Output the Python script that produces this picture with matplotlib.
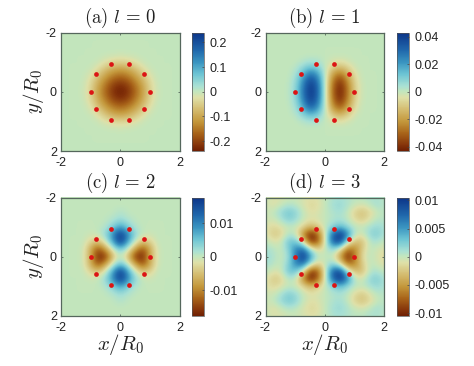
import numpy as np
import matplotlib
matplotlib.use("Agg")
import matplotlib.pyplot as plt
from matplotlib.colors import LinearSegmentedColormap

plt.rcParams['font.family'] = ['Liberation Sans', 'DejaVu Sans']
plt.rcParams['mathtext.fontset'] = 'cm'

# one quadrant of each field: rows y=0..2, cols x=0..2, step 0.25
field_a = [
	[-.240, -.220, -.168, -.110, -.042, -.005, 0, 0, 0],
	[-.220, -.200, -.150, -.098, -.036, -.004, 0, 0, 0],
	[-.168, -.150, -.115, -.068, -.022, -.001, 0, 0, 0],
	[-.110, -.098, -.068, -.030, -.005, 0, 0, 0, 0],
	[-.042, -.036, -.022, -.005, 0, 0, 0, 0, 0],
	[-.005, -.004, -.001, 0, 0, 0, 0, 0, 0],
	[0, 0, 0, 0, 0, 0, 0, 0, 0],
	[0, 0, 0, 0, 0, 0, 0, 0, 0],
	[0, 0, 0, 0, 0, 0, 0, 0, 0],
]
field_b = [
	[0, -.031, -.043, -.027, -.008, -.0005, 0, 0, 0],
	[0, -.029, -.041, -.025, -.007, -.0005, 0, 0, 0],
	[0, -.023, -.033, -.019, -.005, 0, 0, 0, 0],
	[0, -.012, -.017, -.010, -.002, 0, 0, 0, 0],
	[0, -.003, -.004, -.002, 0, 0, 0, 0, 0],
	[0, 0, 0, 0, 0, 0, 0, 0, 0],
	[0, 0, 0, 0, 0, 0, 0, 0, 0],
	[0, 0, 0, 0, 0, 0, 0, 0, 0],
	[0, 0, 0, 0, 0, 0, 0, 0, 0],
]
field_c = [
	[0, -.005, -.016, -.0172, -.007, -.0005, 0, 0, 0],
	[.005, 0, -.008, -.014, -.007, -.0005, 0, 0, 0],
	[.017, .008, 0, -.005, -.003, 0, 0, 0, 0],
	[.017, .010, .003, 0, -.0005, 0, 0, 0, 0],
	[.008, .004, .001, 0, 0, 0, 0, 0, 0],
	[.0025, .001, .0002, 0, 0, 0, 0, 0, 0],
	[.001, .0002, 0, 0, 0, 0, 0, 0, 0],
	[0, 0, 0, 0, 0, 0, 0, 0, 0],
	[0, 0, 0, 0, 0, 0, 0, 0, 0],
]
field_d = [
	[0, -.0003, -.005, -.0105, -.006, -.0012, .0003, -.0008, -.0015],
	[0, .002, -.001, -.007, -.006, -.002, .0002, -.0004, -.0011],
	[0, .008, .0095, .001, -.003, -.003, .0005, .0008, -.0002],
	[0, .0075, .0105, .006, 0, -.0005, .002, .0024, .0008],
	[0, .002, .0035, .0015, .0003, .0001, .001, .0016, .0008],
	[0, .0006, .0008, .0001, -.0015, -.0024, -.0008, .0004, .0004],
	[0, .0008, .0012, 0, -.002, -.0028, -.0016, -.0001, .0003],
	[0, .0012, .0016, .0008, -.0001, -.0005, .0004, .0012, .0004],
	[0, .0008, .001, .0006, .0002, .0004, .0008, .0008, .0002],
]

# red markers
dots_x = [1, .81, .31, -.31, -.81, -1, -.81, -.31, .31, .81]
dots_y = [0, .59, .95, .95, .59, 0, -.59, -.95, -.95, -.59]

titles = ['(a)', '(b)', '(c)', '(d)']
orders = ['0', '1', '2', '3']
limits = [0.24, 0.043, 0.0178, 0.0105]
cbar_ticks = [
	[0.2, 0.1, 0, -0.1, -0.2],
	[0.04, 0.02, 0, -0.02, -0.04],
	[0.01, 0, -0.01],
	[0.01, 0.005, 0, -0.005, -0.01],
]
cbar_labels = [
	['0.2', '0.1', '0', '-0.1', '-0.2'],
	['0.04', '0.02', '0', '-0.02', '-0.04'],
	['0.01', '0', '-0.01'],
	['0.01', '0.005', '0', '-0.005', '-0.01'],
]
axis_ticks = [-2, 0, 2]
axis_labels = ['-2', '0', '2']

cmap = LinearSegmentedColormap.from_list('rb', [
	(0.00, '#6e1e02'),
	(0.05, '#85340a'),
	(0.15, '#a9651a'),
	(0.25, '#c4983c'),
	(0.35, '#d4bc70'),
	(0.45, '#dfe0a8'),
	(0.50, '#c4e6bc'),
	(0.55, '#a8e0d4'),
	(0.65, '#6cc4d4'),
	(0.75, '#3a94c0'),
	(0.85, '#2068ac'),
	(1.00, '#0c3488'),
])

W, H = 474.0, 366.0
spine = '#55675c'


def px_axes(fig, left, top, right, bottom):
	return fig.add_axes([left / W, 1 - bottom / H, (right - left) / W, (bottom - top) / H])


def unfold(quad, odd):
	q = np.array(quad, dtype=float)
	left = q[:, :0:-1] * (-1 if odd else 1)
	half = np.hstack([left, q])
	return np.vstack([half[:0:-1], half])


fig = plt.figure(figsize=(4.74, 3.66), dpi=100)
lefts = [61, 265.5, 61, 265.5]
tops = [32.5, 32.5, 197.5, 197.5]
fields = [(field_a, False), (field_b, True), (field_c, False), (field_d, True)]

for i in range(4):
	l, t = lefts[i], tops[i]
	ax = px_axes(fig, l, t, l + 118.5, t + 118.5)
	z = unfold(fields[i][0], fields[i][1])
	im = ax.imshow(z, extent=[-2.125, 2.125, 2.125, -2.125], cmap=cmap, vmin=-limits[i], vmax=limits[i],
		interpolation='bicubic', aspect='auto')
	ax.set_xlim(-2, 2)
	ax.set_ylim(2, -2)
	ax.plot(dots_x, dots_y, 'o', color='#dc1414', ms=3.4, mew=0, clip_on=False)
	ax.set_xticks(axis_ticks, axis_labels)
	ax.set_yticks(axis_ticks, axis_labels)
	ax.tick_params(direction='in', length=1.5, width=0.6, color=spine, labelsize=9, pad=3, labelcolor='#222222',
		top=True, right=True)
	ax.tick_params(axis='x', pad=4)
	for s in ax.spines.values():
		s.set_color(spine)
		s.set_linewidth(0.9)
	ax.set_title(r'$\mathrm{%s}\ l\,=\,%s$' % (titles[i], orders[i]), fontsize=13.5, pad=7, color='#222222')
	if i % 2 == 0:
		ax.set_ylabel(r'$y/R_0$', fontsize=15, color='#222222', va='center')
		ax.yaxis.set_label_coords(-0.236, 0.5)
	if i >= 2:
		ax.set_xlabel(r'$x/R_0$', fontsize=15, color='#222222', va='center')
		ax.xaxis.set_label_coords(0.5, -0.242)

	cax = px_axes(fig, l + 131, t, l + 143, t + 118.5)
	cb = fig.colorbar(im, cax=cax)
	cb.set_ticks(cbar_ticks[i], labels=cbar_labels[i])
	cax.tick_params(direction='in', length=1.5, width=0.5, color='#444444', labelsize=9, pad=4, labelcolor='#222222')
	cb.outline.set_linewidth(0.5)
	cb.outline.set_edgecolor('#555555')

fig.savefig('out.png', dpi=100)
